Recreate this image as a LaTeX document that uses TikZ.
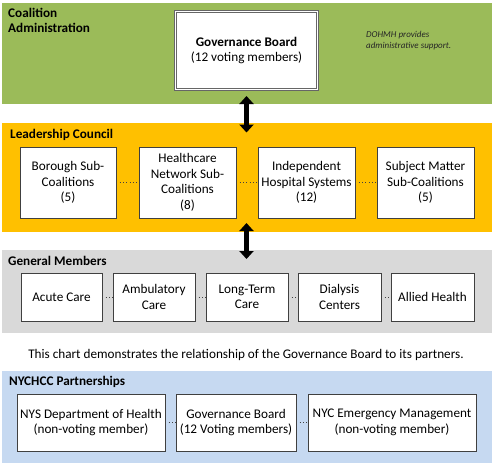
\documentclass[tikz,border=0pt]{standalone}
\usepackage{fontspec}
\setmainfont{Carlito}
\usetikzlibrary{arrows.meta}
\definecolor{bandgreen}{RGB}{155,187,89}
\definecolor{bandorange}{RGB}{255,192,0}
\definecolor{bandgray}{RGB}{217,217,217}
\definecolor{bandblue}{RGB}{198,217,241}
\definecolor{boxline}{RGB}{64,64,64}
\tikzset{
  box/.style={draw=boxline, fill=white, line width=0.8pt, align=center, inner sep=0pt,
    font=\fontsize{13.2}{15.5}\selectfont},
  bandlabel/.style={anchor=west, inner sep=0pt, font=\fontsize{13.2}{15}\selectfont\bfseries, align=left},
  link/.style={draw=boxline, line width=0.9pt, dash pattern=on 0.9pt off 2.4pt},
  bigarrow/.style={line width=5pt, {Triangle[width=14pt,length=8pt]}-{Triangle[width=14pt,length=8pt]}}
}
\begin{document}
\begin{tikzpicture}[x=1pt,y=-1pt]
\useasboundingbox (0,0) rectangle (493,464);
% bands
\fill[bandgreen] (2,3) rectangle (492,104);
\fill[bandorange] (2,123) rectangle (492,232);
\fill[bandgray] (2,250) rectangle (492,333);
\fill[bandblue] (2,371) rectangle (492,463);
% band labels
\node[bandlabel] (lca) at (8,20.5) {Coalition\\Administration};
\node[bandlabel] (llc) at (10,135) {Leadership Council};
\node[bandlabel] (lgm) at (8,261) {General Members};
\node[bandlabel] (lnp) at (9,382) {NYCHCC Partnerships};
% top box
\node[box, draw=black!60, double=white, double distance=1.6pt, line width=0.8pt,
  minimum width=142, minimum height=78] (gb) at (246.5,50.5)
  {\textbf{Governance Board}\\(12 voting members)};
\node[anchor=west, align=left, inner sep=0pt, font=\fontsize{9}{10.5}\selectfont\itshape, text=black!85] (doh) at (366,40.5)
  {DOHMH provides\\administrative support.};
% leadership
\node[box, minimum width=96, minimum height=71] (b1) at (68,182.5) {Borough Sub-\\Coalitions\\(5)};
\node[box, minimum width=97, minimum height=71] (b2) at (187.5,182.5) {Healthcare\\Network Sub-\\Coalitions\\(8)};
\node[box, minimum width=97, minimum height=71] (b3) at (306.5,182.5) {Independent\\Hospital Systems\\(12)};
\node[box, minimum width=97, minimum height=71] (b4) at (425.5,182.5) {Subject Matter\\Sub-Coalitions\\(5)};
\draw[link] (b1.east) -- (b2.west);
\draw[link] (b2.east) -- (b3.west);
\draw[link] (b3.east) -- (b4.west);
% general
\node[box, minimum width=81, minimum height=48] (g1) at (61.5,297) {Acute Care};
\node[box, minimum width=82, minimum height=48] (g2) at (154,297) {Ambulatory\\Care};
\node[box, minimum width=82, minimum height=48] (g3) at (247,297) {Long-Term\\Care};
\node[box, minimum width=83, minimum height=48] (g4) at (339.5,297) {Dialysis\\Centers};
\node[box, minimum width=83, minimum height=48] (g5) at (432.5,297) {Allied Health};
\draw[link] (g1.east) -- (g2.west);
\draw[link] (g2.east) -- (g3.west);
\draw[link] (g3.east) -- (g4.west);
\draw[link] (g4.east) -- (g5.west);
% caption
\node[font=\fontsize{13.2}{15}\selectfont, inner sep=0pt] (cap) at (246,355)
  {This chart demonstrates the relationship of the Governance Board to its partners.};
% partnerships
\node[box, minimum width=148, minimum height=57] (p1) at (91,422.5) {NYS Department of Health\\(non-voting member)};
\node[box, minimum width=120, minimum height=57] (p2) at (236,422.5) {Governance Board\\(12 Voting members)};
\node[box, minimum width=168, minimum height=57] (p3) at (392,422.5) {NYC Emergency Management\\(non-voting member)};
\draw[link] (p1.east) -- (p2.west);
\draw[link] (p2.east) -- (p3.west);
% arrows
\coordinate (a1s) at (246.5,96);
\coordinate (a1e) at (246.5,132.5);
\coordinate (a2s) at (246.5,223);
\coordinate (a2e) at (246.5,259);
\draw[bigarrow] (a1s) -- (a1e);
\draw[bigarrow] (a2s) -- (a2e);
\end{tikzpicture}
\end{document}
